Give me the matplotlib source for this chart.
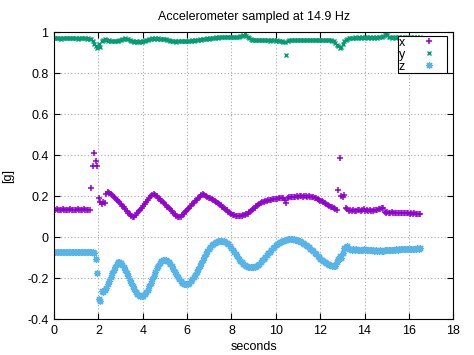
import matplotlib
matplotlib.use("Agg")
import matplotlib.pyplot as plt
import numpy as np

plt.rcParams['font.family'] = ['Liberation Sans', 'DejaVu Sans']

SAMPLE_RATE = 14.9  # Hz

# accelerometer x axis [g]
x_vals = [
    0.135, 0.134, 0.136, 0.135, 0.133, 0.135, 0.136, 0.134, 0.135, 0.135,
    0.134, 0.136, 0.135, 0.133, 0.135, 0.134, 0.136, 0.135, 0.134, 0.135,
    0.136, 0.134, 0.135, 0.133, 0.135, 0.240, 0.350, 0.410, 0.370, 0.350,
    0.190, 0.170, 0.160, 0.170, 0.165, 0.210, 0.220, 0.215, 0.210, 0.205,
    0.198, 0.190, 0.184, 0.177, 0.170, 0.162, 0.155, 0.146, 0.138, 0.130,
    0.120, 0.112, 0.104, 0.097, 0.100, 0.108, 0.117, 0.126, 0.135, 0.144,
    0.153, 0.162, 0.171, 0.180, 0.190, 0.199, 0.207, 0.210, 0.205, 0.200,
    0.193, 0.186, 0.179, 0.172, 0.165, 0.158, 0.150, 0.143, 0.136, 0.128,
    0.120, 0.113, 0.106, 0.100, 0.097, 0.100, 0.107, 0.115, 0.122, 0.130,
    0.137, 0.145, 0.152, 0.160, 0.167, 0.175, 0.182, 0.190, 0.197, 0.204,
    0.210, 0.207, 0.202, 0.198, 0.194, 0.190, 0.186, 0.182, 0.178, 0.174,
    0.168, 0.162, 0.156, 0.149, 0.143, 0.137, 0.131, 0.125, 0.120, 0.115,
    0.111, 0.108, 0.106, 0.105, 0.105, 0.106, 0.105, 0.107, 0.109, 0.112,
    0.116, 0.121, 0.127, 0.133, 0.139, 0.145, 0.151, 0.157, 0.162, 0.166,
    0.170, 0.173, 0.176, 0.178, 0.180, 0.182, 0.184, 0.186, 0.187, 0.188,
    0.189, 0.190, 0.191, 0.190, 0.192, 0.180, 0.168, 0.190, 0.195, 0.196,
    0.197, 0.198, 0.197, 0.199, 0.198, 0.200, 0.199, 0.198, 0.200, 0.199,
    0.198, 0.199, 0.198, 0.197, 0.195, 0.193, 0.190, 0.187, 0.183, 0.179,
    0.175, 0.170, 0.166, 0.162, 0.158, 0.154, 0.150, 0.146, 0.142, 0.138,
    0.135, 0.230, 0.385, 0.200, 0.195, 0.205, 0.145, 0.138, 0.130, 0.133,
    0.128, 0.135, 0.130, 0.127, 0.134, 0.132, 0.128, 0.131, 0.136, 0.130,
    0.133, 0.129, 0.131, 0.127, 0.130, 0.135, 0.133, 0.135, 0.138, 0.140,
    0.145, 0.142, 0.125, 0.118, 0.121, 0.120, 0.119, 0.121, 0.120, 0.118,
    0.120, 0.119, 0.118, 0.120, 0.117, 0.119, 0.118, 0.117, 0.119, 0.116,
    0.118, 0.116, 0.117, 0.115, 0.116, 0.115, 0.116,
]

# accelerometer y axis [g]
y_vals = [
    0.972, 0.970, 0.974, 0.971, 0.973, 0.969, 0.972, 0.974, 0.970, 0.972,
    0.971, 0.973, 0.970, 0.972, 0.974, 0.971, 0.969, 0.972, 0.973, 0.970,
    0.972, 0.970, 0.968, 0.971, 0.969, 0.966, 0.958, 0.945, 0.935, 0.925,
    0.945, 0.930, 0.955, 0.960, 0.966, 0.962, 0.958, 0.960, 0.957, 0.959,
    0.956, 0.958, 0.955, 0.957, 0.960, 0.963, 0.966, 0.968, 0.970, 0.968,
    0.966, 0.962, 0.958, 0.955, 0.953, 0.955, 0.952, 0.954, 0.956, 0.953,
    0.955, 0.957, 0.960, 0.963, 0.966, 0.968, 0.970, 0.969, 0.971, 0.968,
    0.970, 0.967, 0.969, 0.966, 0.968, 0.965, 0.963, 0.960, 0.958, 0.957,
    0.955, 0.957, 0.954, 0.956, 0.955, 0.957, 0.956, 0.958, 0.955, 0.957,
    0.958, 0.956, 0.959, 0.960, 0.958, 0.961, 0.963, 0.962, 0.965, 0.964,
    0.966, 0.968, 0.967, 0.970, 0.969, 0.972, 0.971, 0.974, 0.973, 0.975,
    0.974, 0.976, 0.975, 0.977, 0.976, 0.978, 0.976, 0.977, 0.975, 0.976,
    0.978, 0.977, 0.976, 0.978, 0.977, 0.980, 0.982, 0.985, 0.995, 0.984,
    0.975, 0.970, 0.966, 0.964, 0.962, 0.963, 0.961, 0.962, 0.960, 0.962,
    0.961, 0.963, 0.960, 0.962, 0.961, 0.959, 0.961, 0.960, 0.962, 0.958,
    0.960, 0.957, 0.959, 0.955, 0.952, 0.954, 0.888, 0.957, 0.960, 0.962,
    0.961, 0.963, 0.962, 0.964, 0.962, 0.963, 0.961, 0.964, 0.963, 0.962,
    0.964, 0.962, 0.963, 0.961, 0.963, 0.962, 0.964, 0.963, 0.962, 0.964,
    0.963, 0.962, 0.964, 0.962, 0.961, 0.963, 0.960, 0.958, 0.955, 0.950,
    0.940, 0.932, 0.925, 0.930, 0.945, 0.955, 0.962, 0.968, 0.970, 0.972,
    0.974, 0.972, 0.975, 0.973, 0.974, 0.976, 0.973, 0.975, 0.974, 0.976,
    0.975, 0.973, 0.976, 0.974, 0.975, 0.973, 0.976, 0.974, 0.975, 0.977,
    0.978, 0.982, 0.988, 0.992, 0.985, 0.978, 0.975, 0.974, 0.976, 0.975,
    0.974, 0.976, 0.975, 0.973, 0.975, 0.974, 0.976, 0.975, 0.974, 0.975,
    0.976, 0.974, 0.975, 0.973, 0.975, 0.974, 0.975,
]

# accelerometer z axis [g]
z_vals = [
    -0.072, -0.071, -0.073, -0.072, -0.070, -0.072, -0.073, -0.071, -0.072, -0.072,
    -0.071, -0.073, -0.072, -0.070, -0.072, -0.071, -0.073, -0.072, -0.071, -0.072,
    -0.071, -0.070, -0.072, -0.071, -0.070, -0.071, -0.070, -0.075, -0.105, -0.175,
    -0.300, -0.310, -0.260, -0.265, -0.255, -0.245, -0.230, -0.212, -0.193, -0.175,
    -0.158, -0.143, -0.131, -0.123, -0.121, -0.125, -0.133, -0.145, -0.158, -0.173,
    -0.190, -0.207, -0.224, -0.240, -0.254, -0.266, -0.276, -0.283, -0.287, -0.288,
    -0.285, -0.278, -0.268, -0.256, -0.240, -0.223, -0.205, -0.187, -0.168, -0.152,
    -0.138, -0.126, -0.117, -0.112, -0.110, -0.111, -0.115, -0.122, -0.131, -0.142,
    -0.155, -0.168, -0.181, -0.194, -0.205, -0.214, -0.221, -0.226, -0.228, -0.228,
    -0.226, -0.221, -0.214, -0.205, -0.195, -0.183, -0.170, -0.156, -0.141, -0.126,
    -0.111, -0.096, -0.082, -0.069, -0.057, -0.047, -0.038, -0.031, -0.026, -0.022,
    -0.019, -0.018, -0.017, -0.018, -0.020, -0.023, -0.028, -0.034, -0.041, -0.050,
    -0.060, -0.071, -0.082, -0.093, -0.104, -0.114, -0.123, -0.130, -0.136, -0.140,
    -0.143, -0.145, -0.146, -0.146, -0.145, -0.143, -0.139, -0.134, -0.128, -0.121,
    -0.113, -0.105, -0.097, -0.088, -0.079, -0.070, -0.062, -0.054, -0.047, -0.040,
    -0.034, -0.028, -0.023, -0.019, -0.016, -0.013, -0.011, -0.010, -0.009, -0.009,
    -0.009, -0.010, -0.011, -0.013, -0.016, -0.019, -0.023, -0.027, -0.032, -0.037,
    -0.043, -0.049, -0.055, -0.062, -0.069, -0.076, -0.083, -0.090, -0.097, -0.104,
    -0.110, -0.116, -0.121, -0.126, -0.130, -0.133, -0.136, -0.138, -0.139, -0.138,
    -0.120, -0.105, -0.090, -0.100, -0.075, -0.050, -0.045, -0.042, -0.055, -0.058,
    -0.060, -0.058, -0.061, -0.059, -0.060, -0.062, -0.060, -0.061, -0.059, -0.062,
    -0.061, -0.063, -0.062, -0.064, -0.063, -0.065, -0.064, -0.066, -0.065, -0.064,
    -0.066, -0.065, -0.064, -0.063, -0.062, -0.061, -0.062, -0.060, -0.061, -0.060,
    -0.059, -0.060, -0.058, -0.059, -0.057, -0.058, -0.057, -0.056, -0.057, -0.056,
    -0.056, -0.055, -0.056, -0.055, -0.054, -0.055, -0.054,
]

x_ticks = [0, 2, 4, 6, 8, 10, 12, 14, 16, 18]
y_ticks = [-0.4, -0.2, 0, 0.2, 0.4, 0.6, 0.8, 1]
y_tick_labels = ['-0.4', '-0.2', '0', '0.2', '0.4', '0.6', '0.8', '1']

t = np.arange(len(x_vals)) / SAMPLE_RATE

fig = plt.figure(figsize=(4.74, 3.55), dpi=100)
ax = fig.add_axes([0.1139, 0.1006, 0.8424, 0.8085])

ax.plot(t, x_vals, ls='none', marker='+', ms=4.2, mew=1.1, color='#9400d3', label='x')
ax.plot(t, y_vals, ls='none', marker='x', ms=3.5, mew=1, color='#009e73', label='y')
ax.plot(t, z_vals, ls='none', marker=(8, 2, 0), ms=5, mew=0.9, color='#56b4e9', label='z')

ax.set_xlim(0, 18)
ax.set_ylim(-0.4, 1)
ax.set_xticks(x_ticks)
ax.set_yticks(y_ticks)
ax.set_yticklabels(y_tick_labels)

ax.tick_params(direction='in', top=True, right=True, length=4, width=0.8,
               labelsize=9, pad=4)
ax.grid(True, ls=(0, (1, 2)), color='#a8a8a8', lw=0.8)
ax.set_axisbelow(True)
for s in ax.spines.values():
    s.set_linewidth(0.8)

ax.set_title('Accelerometer sampled at 14.9 Hz', fontsize=9, pad=9)
ax.set_xlabel('seconds', fontsize=9, labelpad=3)
ax.set_ylabel('[g]', fontsize=9, labelpad=9)

leg = ax.legend(loc='upper right', bbox_to_anchor=(0.984, 0.987), markerfirst=False,
                frameon=True, fancybox=False, edgecolor='black', framealpha=1,
                fontsize=9, borderpad=0.05, labelspacing=0.0, handlelength=2.8,
                handletextpad=0.5, borderaxespad=0)
leg.get_frame().set_linewidth(0.8)
leg.set_zorder(5)

fig.savefig('out.png', dpi=100)
